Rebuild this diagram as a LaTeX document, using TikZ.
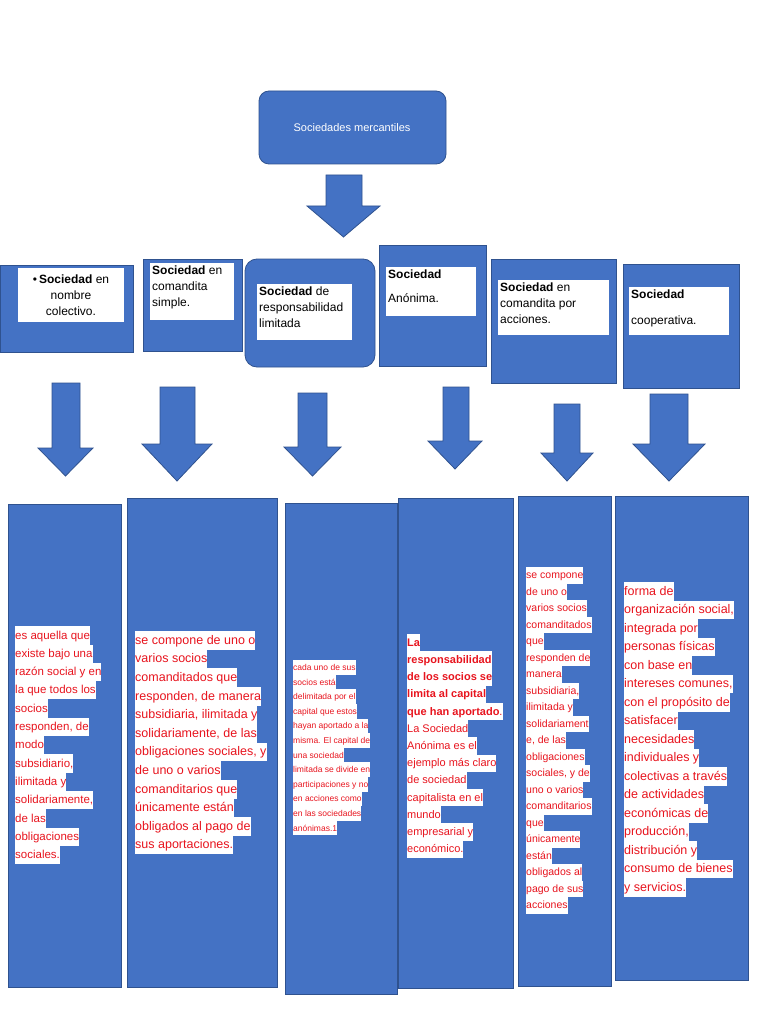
\documentclass[tikz,border=0pt]{standalone}
\usepackage{fontspec}
\setmainfont{Liberation Sans}
\definecolor{azul}{HTML}{4472C4}
\definecolor{borde}{HTML}{2F528F}
\definecolor{rojo}{HTML}{E8141E}
\newcommand\hl[1]{\colorbox{white}{\strut #1}}
% flecha: x izq, x der, cuerpo izq, cuerpo der, arriba, cuello, punta
\newcommand\flecha[7]{\draw[flecha] (#3,#5) -- (#4,#5) -- (#4,#6) -- (#2,#6) -- ({(#1+#2)/2},#7) -- (#1,#6) -- (#3,#6) -- cycle;}
\begin{document}
\begin{tikzpicture}[x=1pt,y=-1pt]
  \tikzset{caja/.style={draw=borde,fill=azul,line width=0.8pt},
           flecha/.style={draw=borde,fill=azul,line width=0.8pt},
           titulo/.style={fill=white,inner sep=3pt,font=\fontsize{12}{16}\selectfont,text=black},
           texto/.style={align=left,inner sep=0pt,text=rojo,anchor=north west}}
  \useasboundingbox (0,0) rectangle (768,1024);
  \fill[white] (0,0) rectangle (768,1024);

  \draw[caja,rounded corners=10pt] (259,91) rectangle (446,164);
  \node[text=white,font=\fontsize{11}{13}\selectfont] (raiz) at (352,128) {Sociedades mercantiles};
  \flecha{307}{380}{326}{362}{175}{206}{237}

  % cabeceras
  \draw[caja] (0,265) rectangle (133,352);
  \draw[caja] (143,259) rectangle (242,351);
  \draw[caja,rounded corners=12pt] (245,259) rectangle (375,367);
  \draw[caja] (379,245) rectangle (486,366);
  \draw[caja] (491,259) rectangle (616,383);
  \draw[caja] (623,264) rectangle (739,388);
  \fill[white] (18,268) rectangle (124,322);
  \node[titulo,fill=none,align=center] (c1) at (71,295) {\textbullet\,\textbf{Sociedad} en\\nombre\\colectivo.};
  \fill[white] (150,263) rectangle (234,320);
  \node[titulo,fill=none,align=left,anchor=north west] (c2) at (149,263) {\textbf{Sociedad} en\\comandita\\simple.};
  \fill[white] (257,284) rectangle (352,340);
  \node[titulo,fill=none,align=left,anchor=north west] (c3) at (256,284) {\textbf{Sociedad} de\\responsabilidad\\limitada};
  \fill[white] (386,267) rectangle (476,316);
  \node[titulo,fill=none,align=left,anchor=north west] (c4) at (385,267) {\textbf{Sociedad}\\[8pt]Anónima.};
  \fill[white] (498,280) rectangle (609,335);
  \node[titulo,fill=none,align=left,anchor=north west] (c5) at (497,280) {\textbf{Sociedad} en\\comandita por\\acciones.};
  \fill[white] (629,287) rectangle (729,335);
  \node[titulo,fill=none,align=left,anchor=north west] (c6) at (628,287) {\textbf{Sociedad}\\[10pt]cooperativa.};

  % flechas
  \flecha{38}{93}{52}{80}{383}{448}{476}
  \flecha{142}{212}{160}{195}{387}{444}{481}
  \flecha{284}{341}{298}{327}{393}{447}{476}
  \flecha{428}{482}{443}{469}{387}{441}{469}
  \flecha{541}{593}{554}{580}{404}{453}{481}
  \flecha{633}{705}{650}{688}{394}{444}{481}

  % definiciones
  \draw[caja] (8,504) rectangle (121,987);
  \draw[caja] (127,498) rectangle (277,987);
  \draw[caja] (285,503) rectangle (397,994);
  \draw[caja] (398,498) rectangle (513,988);
  \draw[caja] (518,496) rectangle (611,986);
  \draw[caja] (615,496) rectangle (748,980);
  \setlength{\fboxsep}{0pt}
  \node[texto,font=\fontsize{11.5}{18.3}\selectfont] (d1) at (15,626) {\hl{es aquella que}\\\hl{existe bajo una}\\\hl{razón social y en}\\\hl{la que todos los}\\\hl{socios}\\\hl{responden, de}\\\hl{modo}\\\hl{subsidiario,}\\\hl{ilimitada y}\\\hl{solidariamente,}\\\hl{de las}\\\hl{obligaciones}\\\hl{sociales.}};
  \node[texto,font=\fontsize{12.5}{18.6}\selectfont] (d2) at (135,631) {\hl{se compone de uno o}\\\hl{varios socios}\\\hl{comanditados que}\\\hl{responden, de manera}\\\hl{subsidiaria, ilimitada y}\\\hl{solidariamente, de las}\\\hl{obligaciones sociales, y}\\\hl{de uno o varios}\\\hl{comanditarios que}\\\hl{únicamente están}\\\hl{obligados al pago de}\\\hl{sus aportaciones.}};
  \node[texto,font=\fontsize{8.5}{14.6}\selectfont] (d3) at (293,660) {\hl{cada uno de sus}\\\hl{socios está}\\\hl{delimitada por el}\\\hl{capital que estos}\\\hl{hayan aportado a la}\\\hl{misma. El capital de}\\\hl{una sociedad}\\\hl{limitada se divide en}\\\hl{participaciones y no}\\\hl{en acciones como}\\\hl{en las sociedades}\\\hl{anónimas.1}};
  \node[texto,font=\fontsize{11}{17.2}\selectfont] (d4) at (407,634) {\hl{\textbf{La}}\\\hl{\textbf{responsabilidad}}\\\hl{\textbf{de los socios se}}\\\hl{\textbf{limita al capital}}\\\hl{\textbf{que han aportado}.}\\\hl{La Sociedad}\\\hl{Anónima es el}\\\hl{ejemplo más claro}\\\hl{de sociedad}\\\hl{capitalista en el}\\\hl{mundo}\\\hl{empresarial y}\\\hl{económico.}};
  \node[texto,font=\fontsize{10.5}{16.5}\selectfont] (d5) at (526,567) {\hl{se compone}\\\hl{de uno o}\\\hl{varios socios}\\\hl{comanditados}\\\hl{que}\\\hl{responden de}\\\hl{manera}\\\hl{subsidiaria,}\\\hl{ilimitada y}\\\hl{solidariament}\\\hl{e, de las}\\\hl{obligaciones}\\\hl{sociales, y de}\\\hl{uno o varios}\\\hl{comanditarios}\\\hl{que}\\\hl{únicamente}\\\hl{están}\\\hl{obligados al}\\\hl{pago de sus}\\\hl{acciones}};
  \node[texto,font=\fontsize{12.5}{18.5}\selectfont] (d6) at (624,582) {\hl{forma de}\\\hl{organización social,}\\\hl{integrada por}\\\hl{personas físicas}\\\hl{con base en}\\\hl{intereses comunes,}\\\hl{con el propósito de}\\\hl{satisfacer}\\\hl{necesidades}\\\hl{individuales y}\\\hl{colectivas a través}\\\hl{de actividades}\\\hl{económicas de}\\\hl{producción,}\\\hl{distribución y}\\\hl{consumo de bienes}\\\hl{y servicios.}};
\end{tikzpicture}
\end{document}
